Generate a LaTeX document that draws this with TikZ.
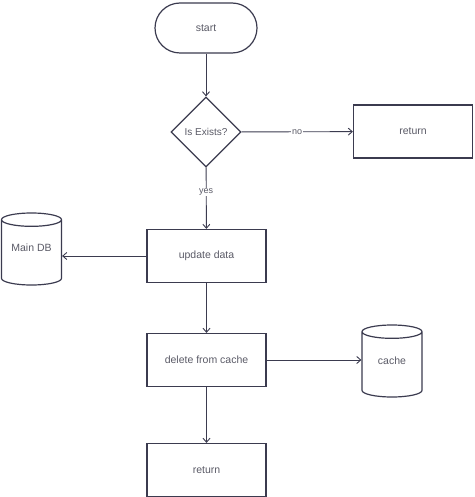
\documentclass[tikz,border=0pt]{standalone}
\usepackage{fontspec}
\setmainfont{Liberation Sans}
\usepackage{xcolor}
\usetikzlibrary{arrows.meta, shapes.geometric}

\definecolor{lineclr}{HTML}{3B3B4F}
\definecolor{textclr}{HTML}{5A5A66}

\tikzset{
    box/.style={draw=lineclr, line width=1.2pt, minimum width=119pt, minimum height=53pt, text=textclr, font=\fontsize{10.5}{12}\selectfont},
    terminal/.style={box, rounded corners=25pt, minimum width=102pt, minimum height=50pt},
    decision/.style={draw=lineclr, line width=1.2pt, diamond, aspect=1, inner sep=0pt, minimum width=70pt, minimum height=70pt, text=textclr, font=\fontsize{10}{12}\selectfont},
    store/.style={draw=lineclr, line width=1.2pt, cylinder, shape border rotate=90, aspect=2, minimum width=60pt, minimum height=72pt, anchor=shape center},
    storetext/.style={text=textclr, font=\fontsize{10.5}{12}\selectfont},
    flow/.style={draw=lineclr, line width=0.9pt, -{Straight Barb[length=4pt, width=7pt]}},
    tag/.style={fill=white, inner sep=1pt, text=textclr, font=\fontsize{9}{11}\selectfont}
}

\begin{document}
\begin{tikzpicture}[x=1pt, y=-1pt]
    \useasboundingbox (0,0) rectangle (474,497);

    \node[terminal] (start) at (206,28) {start};
    \node[decision] (exists) at (206,132) {Is Exists?};
    \node[box] (ret1) at (413,131.5) {return};
    \node[box] (update) at (206.5,256) {update data};
    \node[box] (delete) at (206.5,360) {delete from cache};
    \node[box] (ret2) at (206.5,470) {return};

    % storages
    \node[store] (maindb) at (31.5,249) {};
    \node[storetext] (maindbtxt) at (31.5,248) {Main DB};
    \node[store] (cache) at (392,361) {};
    \node[storetext] (cachetxt) at (392,361) {cache};

    \draw[flow] (start) -- (exists);
    \draw[flow] (exists) -- node[tag] {no} (ret1);
    \draw[flow] (exists) -- node[tag, pos=0.4] {yes} (update);
    \draw[flow] (update) -- (update -| maindb.east);
    \draw[flow] (update) -- (delete);
    \draw[flow] (delete) -- (delete -| cache.west);
    \draw[flow] (delete) -- (ret2);
\end{tikzpicture}
\end{document}
